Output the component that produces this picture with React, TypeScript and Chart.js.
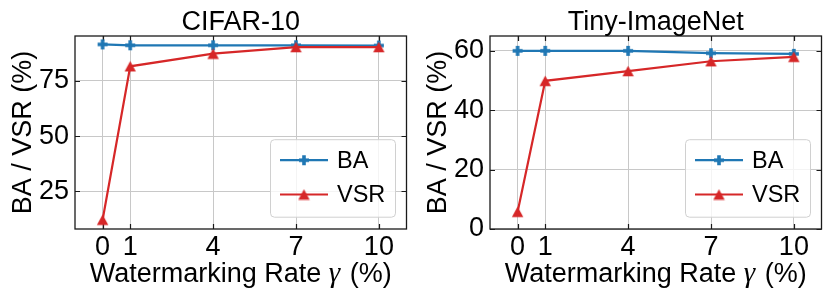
import React, { useEffect, useRef } from "react";
import { Chart, registerables } from "chart.js";

Chart.register(...registerables);

// ---- data ----
const rates = [0, 1, 4, 7, 10];
const xTicks = [0, 1, 4, 7, 10];

const cifarBA = [91.5, 91.1, 91.1, 91.1, 91.0];
const cifarVSR = [12.2, 81.6, 87.3, 90.3, 90.3];
const cifarYTicks = [25, 50, 75];

const tinyBA = [60.0, 60.0, 60.0, 59.2, 59.0];
const tinyVSR = [5.8, 49.9, 53.2, 56.5, 58.0];
const tinyYTicks = [0, 20, 40, 60];

const seriesNames = ["BA", "VSR"];
const BLUE = "#1f77b4";
const RED = "#d62728";
const FONT = "'Liberation Sans', Arial, Helvetica, sans-serif";

function makePlus(color: string) {
  const c = document.createElement("canvas");
  c.width = 12;
  c.height = 12;
  const g = c.getContext("2d")!;
  const s = 10, t = 3.6, o = 1, m = 6;
  g.fillStyle = color;
  g.beginPath();
  g.rect(m - t / 2, o, t, s);
  g.rect(o, m - t / 2, s, t);
  g.fill();
  return c;
}

function makeTriangle(color: string) {
  const c = document.createElement("canvas");
  c.width = 13;
  c.height = 12;
  const g = c.getContext("2d")!;
  g.fillStyle = color;
  g.beginPath();
  g.moveTo(6.5, 0.8);
  g.lineTo(12.2, 11.2);
  g.lineTo(0.8, 11.2);
  g.closePath();
  g.fill();
  return c;
}

type PanelProps = {
  title: string;
  ba: number[];
  vsr: number[];
  yMin: number;
  yMax: number;
  yTicks: number[];
};

function Panel({ title, ba, vsr, yMin, yMax, yTicks }: PanelProps) {
  const ref = useRef<HTMLCanvasElement>(null);

  useEffect(() => {
    const plus = makePlus(BLUE);
    const tri = makeTriangle(RED);

    const framePlugin = {
      id: "frame",
      beforeDatasetsDraw(chart: any) {
        const { ctx, chartArea: a } = chart;
        ctx.save();
        ctx.strokeStyle = "#1a1a1a";
        ctx.lineWidth = 1.3;
        ctx.strokeRect(a.left, a.top, a.right - a.left, a.bottom - a.top);
        // inward ticks on all four sides
        const xs = chart.scales.x;
        const ys = chart.scales.y;
        const tl = 5;
        ctx.lineWidth = 1.2;
        ctx.beginPath();
        xs.ticks.forEach((t: any) => {
          const px = Math.round(xs.getPixelForValue(t.value)) + 0.5;
          ctx.moveTo(px, a.bottom);
          ctx.lineTo(px, a.bottom - tl);
          ctx.moveTo(px, a.top);
          ctx.lineTo(px, a.top + tl);
        });
        ys.ticks.forEach((t: any) => {
          const py = Math.round(ys.getPixelForValue(t.value)) + 0.5;
          ctx.moveTo(a.left, py);
          ctx.lineTo(a.left + tl, py);
          ctx.moveTo(a.right, py);
          ctx.lineTo(a.right - tl, py);
        });
        ctx.stroke();
        ctx.restore();
      },
      afterDraw(chart: any) {
        const { ctx, chartArea: a } = chart;
        const cx = (a.left + a.right) / 2;
        const cy = (a.top + a.bottom) / 2;
        ctx.save();
        ctx.fillStyle = "#000";
        // title
        ctx.font = `27px ${FONT}`;
        ctx.textAlign = "center";
        ctx.textBaseline = "alphabetic";
        ctx.fillText(title, cx, 30);
        // y title
        ctx.save();
        ctx.translate(24, cy);
        ctx.rotate(-Math.PI / 2);
        ctx.font = `27px ${FONT}`;
        ctx.textBaseline = "middle";
        ctx.fillText("BA / VSR (%)", 0, 0);
        ctx.restore();
        // x title with italic gamma
        const p1 = "Watermarking Rate ";
        const p2 = "γ";
        const p3 = " (%)";
        const f1 = `27px ${FONT}`;
        const f2 = `italic 29px 'Liberation Serif', 'DejaVu Serif', serif`;
        ctx.font = f1;
        const w1 = ctx.measureText(p1).width;
        const w3 = ctx.measureText(p3).width;
        ctx.font = f2;
        const w2 = ctx.measureText(p2).width + 2;
        let x = cx - (w1 + w2 + w3) / 2;
        const by = 282;
        ctx.textAlign = "left";
        ctx.font = f1;
        ctx.fillText(p1, x, by);
        x += w1;
        ctx.font = f2;
        ctx.fillText(p2, x, by);
        x += w2;
        ctx.font = f1;
        ctx.fillText(p3, x, by);

        // legend
        const bx = a.right - 136.5;
        const bw = 125;
        const bh = 77.5;
        const byTop = a.bottom - 12.3 - bh;
        ctx.beginPath();
        (ctx as any).roundRect(bx + 0.5, byTop + 0.5, bw, bh, 4);
        ctx.fillStyle = "rgba(255,255,255,0.8)";
        ctx.fill();
        ctx.strokeStyle = "#d0d0d0";
        ctx.lineWidth = 1;
        ctx.stroke();
        const rows = [byTop + 21, byTop + 55.3];
        const colors = [BLUE, RED];
        const imgs = [plus, tri];
        rows.forEach((ry, i) => {
          ctx.strokeStyle = colors[i];
          ctx.lineWidth = 2.2;
          ctx.beginPath();
          ctx.moveTo(bx + 10, ry);
          ctx.lineTo(bx + 58, ry);
          ctx.stroke();
          const im = imgs[i];
          ctx.drawImage(im, bx + 34 - im.width / 2, ry - im.height / 2);
          ctx.fillStyle = "#000";
          ctx.font = `23.5px ${FONT}`;
          ctx.textBaseline = "middle";
          ctx.textAlign = "left";
          ctx.fillText(seriesNames[i], bx + 67, ry + 1);
        });
        ctx.restore();
      },
    };

    const chart = new Chart(ref.current!, {
      type: "line",
      data: {
        datasets: [
          {
            label: seriesNames[0],
            data: rates.map((r, i) => ({ x: r, y: ba[i] })),
            borderColor: BLUE,
            backgroundColor: BLUE,
            borderWidth: 2.2,
            pointStyle: plus as any,
            pointRadius: 5,
            tension: 0,
            order: 1,
          },
          {
            label: seriesNames[1],
            data: rates.map((r, i) => ({ x: r, y: vsr[i] })),
            borderColor: RED,
            backgroundColor: RED,
            borderWidth: 2.2,
            pointStyle: tri as any,
            pointRadius: 5,
            tension: 0,
            order: 0,
          },
        ],
      },
      options: {
        animation: false,
        responsive: false,
        devicePixelRatio: 1,
        layout: { padding: { left: 0, top: 36, right: 8.5, bottom: 0 } },
        plugins: {
          legend: { display: false },
          tooltip: { enabled: false },
          title: { display: false },
        },
        scales: {
          x: {
            type: "linear",
            min: -1,
            max: 11,
            afterBuildTicks: (s: any) => {
              s.ticks = xTicks.map((v) => ({ value: v }));
            },
            afterFit: (s: any) => {
              s.height = 70;
            },
            grid: { color: "#c8c8c8", lineWidth: 1, drawTicks: false },
            border: { display: false },
            ticks: {
              color: "#000",
              font: { family: FONT, size: 27 },
              padding: 2,
              maxRotation: 0,
              autoSkip: false,
            },
          },
          y: {
            type: "linear",
            min: yMin,
            max: yMax,
            afterBuildTicks: (s: any) => {
              s.ticks = yTicks.map((v) => ({ value: v }));
            },
            afterFit: (s: any) => {
              s.width = 75;
            },
            grid: { color: "#c8c8c8", lineWidth: 1, drawTicks: false },
            border: { display: false },
            ticks: {
              color: "#000",
              font: { family: FONT, size: 27 },
              padding: 6,
            },
          },
        },
      },
      plugins: [framePlugin],
    });
    return () => chart.destroy();
  }, [title, ba, vsr, yMin, yMax, yTicks]);

  return <canvas ref={ref} width={415} height={299} style={{ display: "block", width: 415, height: 299 }} />;
}

export default function App() {
  return (
    <div
      style={{
        position: "absolute",
        left: 0,
        top: 0,
        width: 830,
        height: 299,
        display: "flex",
        background: "#fff",
      }}
    >
      <Panel title="CIFAR-10" ba={cifarBA} vsr={cifarVSR} yMin={8.0} yMax={95.3} yTicks={cifarYTicks} />
      <Panel title="Tiny-ImageNet" ba={tinyBA} vsr={tinyVSR} yMin={0} yMax={65} yTicks={tinyYTicks} />
    </div>
  );
}
